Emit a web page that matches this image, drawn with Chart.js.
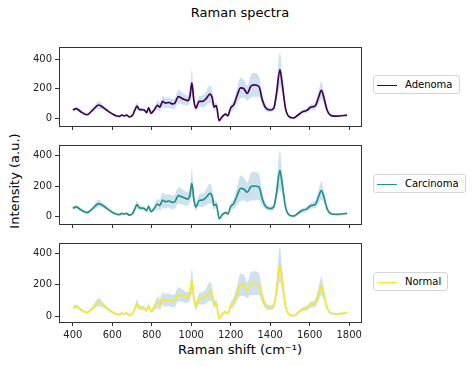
<!DOCTYPE html>
<html>
<head>
<meta charset="utf-8">
<script src="https://cdn.jsdelivr.net/npm/chart.js@4.4.1/dist/chart.umd.min.js"></script>
<style>
  body { margin: 0; background: #fff; font-family: "DejaVu Sans", sans-serif; }
  #fig { position: relative; width: 474px; height: 366px; overflow: hidden; }
  canvas { position: absolute; left: 0; }
  .txt { position: absolute; color: #000; white-space: nowrap; }
  .legend { position: absolute; left: 373px; height: 17px; border: 1px solid #d6d6d6; border-radius: 3px;
            background: #fff; font-size: 10px; line-height: 17px; padding: 0 6px 0 3px; }
  .legend span.swatch { display: inline-block; width: 20px; height: 0; border-top: 1.5px solid; vertical-align: middle; margin-right: 8px; }
</style>
</head>
<body>
<div id="fig">
  <div class="txt" style="left:0;width:480px;top:5px;text-align:center;font-size:13px;">Raman spectra</div>
  <div class="txt" style="left:14px;top:181px;font-size:13px;transform:translate(-50%,-50%) rotate(-90deg);">Intensity (a.u.)</div>
  <div class="txt" style="left:0;width:480px;top:342px;text-align:center;font-size:13px;">Raman shift (cm⁻¹)</div>
  <canvas id="c0" width="370" height="113" style="top:38px"></canvas>
  <canvas id="c1" width="370" height="113" style="top:136px"></canvas>
  <canvas id="c2" width="370" height="113" style="top:234px"></canvas>
  <div class="legend" style="top:75px"><span class="swatch" style="border-color:#440154"></span>Adenoma</div>
  <div class="legend" style="top:174px"><span class="swatch" style="border-color:#21918c"></span>Carcinoma</div>
  <div class="legend" style="top:272px"><span class="swatch" style="border-color:#fde725"></span>Normal</div>
</div>
<script>
// Raman shift positions (cm-1)
const shift = [400,417,442,472,500,531,555,577,600,619,636,648,661,673,686,703,714,725,737,750,
  762,774,784,796,812,829,841,855,868,888,905,917,935,955,981,993,1003,1014,1023,1040,
  1057,1073,1095,1107,1115,1127,1141,1158,1175,1185,1200,1216,1233,1250,1267,1284,1301,1318,1343,1360,
  1377,1402,1419,1432,1449,1461,1477,1494,1519,1536,1562,1587,1604,1629,1646,1659,1671,1688,1713,1738,1789];

const adenomaMean = [56,65,43,24,55,90,72,50,30,17, 13,22,17,22,9,22,55,82,60,58,
  56,39,71,34,56,88,75,114,103,107, 97,103,146,133,120,146,239,114,69,114,
  114,129,163,135,77,86,-15,13,28,17, 71,92,157,206,200,168,215,226,215,125,
  71,56,71,168,329,232,71,13,2,17, 43,54,75,86,146,189,146,56,17,15,22];
const adenomaSd = [12,12,10,8,12,25,15,10,8,6, 6,6,6,6,5,6,15,25,15,12,
  12,10,15,10,15,30,30,40,35,35, 35,35,45,40,35,40,90,30,20,35,
  40,45,60,45,25,25,10,10,10,8, 20,30,50,70,60,50,75,80,70,40,
  20,15,20,50,115,70,20,8,6,8, 12,15,20,25,45,60,40,15,8,6,6];

const carcinomaMean = [55,63,42,25,52,85,70,48,28,16, 12,20,16,20,8,20,50,78,57,55,
  52,38,66,32,52,82,72,108,98,102, 93,98,138,128,115,140,218,108,62,105,
  108,122,152,128,72,80,-14,12,26,16, 66,86,140,186,180,160,195,201,195,115,
  66,52,66,155,304,215,66,12,2,16, 40,50,70,80,135,170,135,52,16,14,20];
const carcinomaSd = [12,12,10,8,12,25,15,10,8,6, 6,6,6,6,5,6,15,25,15,12,
  12,10,15,10,20,35,35,50,45,45, 45,45,55,50,45,50,95,35,25,40,
  45,50,65,50,30,25,10,10,10,8, 20,35,60,85,75,65,90,95,85,45,
  20,15,20,50,130,70,20,8,6,8, 12,15,20,25,45,60,40,15,8,6,6];

const normalMean = [54,62,40,22,50,88,68,46,26,14, 10,18,14,18,6,18,48,80,55,52,
  50,35,64,30,55,86,74,110,100,104, 95,100,140,130,118,142,224,110,64,110,
  112,125,158,132,74,82,-16,12,26,16, 68,90,150,200,195,165,205,210,205,120,
  68,54,68,165,327,228,68,12,2,16, 42,52,72,84,145,192,145,54,16,14,20];
const normalSd = [12,12,10,8,12,25,15,10,8,6, 6,6,6,6,5,6,15,25,15,12,
  12,10,15,10,20,35,35,40,40,40, 40,40,45,40,35,40,80,30,25,35,
  40,45,60,45,25,25,10,10,10,8, 20,30,50,70,65,50,70,75,70,40,
  20,15,20,50,110,70,20,8,6,8, 12,15,20,25,45,60,40,15,8,6,6];

const xTicks = [400,600,800,1000,1200,1400,1600,1800];
const yTicks = [0,200,400];

const panels = [
  { id: 'c0', label: 'Adenoma', color: '#440154', mean: adenomaMean, sd: adenomaSd, ymin: -52, ymax: 482, showX: false },
  { id: 'c1', label: 'Carcinoma', color: '#21918c', mean: carcinomaMean, sd: carcinomaSd, ymin: -50, ymax: 472, showX: false },
  { id: 'c2', label: 'Normal', color: '#fde725', mean: normalMean, sd: normalSd, ymin: -38, ymax: 466, showX: true },
];

// matplotlib-like box around the axes
const frame = {
  id: 'frame',
  afterDraw(chart) {
    const a = chart.chartArea, c = chart.ctx;
    c.save();
    c.strokeStyle = '#333';
    c.lineWidth = 1;
    c.strokeRect(Math.round(a.left) + 0.5, Math.round(a.top) + 0.5,
      Math.round(a.right - a.left), Math.round(a.bottom - a.top));
    c.restore();
  }
};

const tickFont = { family: 'DejaVu Sans', size: 10 };

panels.forEach(p => {
  const pts = arr => arr.map((v, i) => ({ x: shift[i], y: v }));
  new Chart(document.getElementById(p.id), {
    type: 'line',
    data: {
      datasets: [
        { label: p.label, data: pts(p.mean), borderColor: p.color, borderWidth: 1.7,
          pointRadius: 0, fill: false, cubicInterpolationMode: 'monotone' },
        { label: 'upper', data: pts(p.mean.map((m, i) => m + p.sd[i])), borderWidth: 0,
          pointRadius: 0, fill: '+1', backgroundColor: 'rgba(31,119,180,0.22)', cubicInterpolationMode: 'monotone' },
        { label: 'lower', data: pts(p.mean.map((m, i) => m - p.sd[i])), borderWidth: 0,
          pointRadius: 0, fill: false, cubicInterpolationMode: 'monotone' },
      ]
    },
    options: {
      responsive: false,
      animation: false,
      devicePixelRatio: 1,
      layout: { padding: { top: 5, right: 9, left: 0, bottom: 0 } },
      plugins: { legend: { display: false }, tooltip: { enabled: false } },
      scales: {
        x: {
          type: 'linear', min: 330, max: 1860,
          afterBuildTicks: axis => { axis.ticks = xTicks.map(v => ({ value: v })); },
          afterFit: s => { s.height = 25; },
          border: { display: false },
          grid: { drawOnChartArea: false, drawTicks: true, tickLength: 4, color: '#333' },
          ticks: { color: '#222', font: tickFont, padding: 3, maxRotation: 0,
                   callback: v => p.showX ? v : '' }
        },
        y: {
          min: p.ymin, max: p.ymax,
          afterBuildTicks: axis => { axis.ticks = yTicks.map(v => ({ value: v })); },
          afterFit: s => { s.width = 59; },
          border: { display: false },
          grid: { drawOnChartArea: false, drawTicks: true, tickLength: 4, color: '#333' },
          ticks: { color: '#222', font: tickFont, padding: 3 }
        }
      }
    },
    plugins: [frame]
  });
});
</script>
</body>
</html>
